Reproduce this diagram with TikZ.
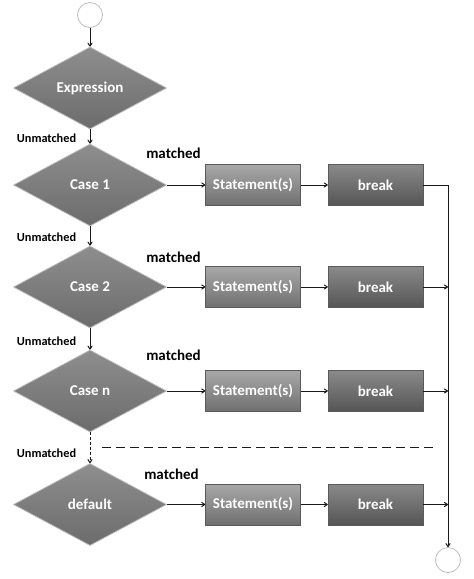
\documentclass[tikz,border=0pt]{standalone}
\usepackage{fontspec}
\setmainfont{Carlito}
\usetikzlibrary{shapes.geometric,arrows.meta}
\definecolor{diatop}{HTML}{8E8E8E}
\definecolor{diabot}{HTML}{6C6C6C}
\definecolor{diaedge}{HTML}{B8B8B8}
\definecolor{sttop}{HTML}{A8A8A8}
\definecolor{stbot}{HTML}{707070}
\definecolor{brtop}{HTML}{8A8A8A}
\definecolor{brbot}{HTML}{555555}
\definecolor{boxedge}{HTML}{5A5A5A}
\definecolor{circedge}{HTML}{BDBDBD}
\begin{document}
\begin{tikzpicture}[x=1pt,y=-1pt,
  dia/.style={diamond, minimum width=153pt, minimum height=82pt, inner sep=0pt,
    top color=diatop, bottom color=diabot, draw=diaedge, line width=0.8pt,
    text=white, font=\bfseries\fontsize{15}{17}\selectfont},
  stbox/.style={rectangle, minimum width=95pt, minimum height=41pt, inner sep=0pt,
    top color=sttop, bottom color=stbot, draw=boxedge, line width=0.4pt,
    text=white, font=\bfseries\fontsize{15}{17}\selectfont},
  brbox/.style={stbox, top color=brtop, bottom color=brbot},
  term/.style={circle, minimum size=25pt, inner sep=0pt, draw=circedge, line width=0.8pt, fill=white},
  ulab/.style={font=\bfseries\fontsize{12.3}{14}\selectfont, text=black, inner sep=0pt},
  mlab/.style={font=\bfseries\fontsize{15}{17}\selectfont, text=black, inner sep=0pt},
  arr/.style={-{To[length=4pt,width=5pt]}, line width=1pt, draw=black!90},
  ln/.style={line width=1pt, draw=black!90}
]
\useasboundingbox (0,0) rectangle (474,579);

\node[term] (start) at (90,15) {};
\node[dia] (expr) at (90,88) {Expression};
\node[dia] (c1) at (90,185) {Case 1};
\node[dia] (c2) at (90,287) {Case 2};
\node[dia] (cn) at (90,391) {Case n};
\node[dia] (def) at (90,504.5) {default};

\node[stbox] (s1) at (253,185) {Statement(s)};
\node[stbox] (s2) at (253,287) {Statement(s)};
\node[stbox] (sn) at (253,391) {Statement(s)};
\node[stbox] (sd) at (253,504.5) {Statement(s)};

\node[brbox] (b1) at (375.5,185) {break};
\node[brbox] (b2) at (375.5,287) {break};
\node[brbox] (bn) at (375.5,391) {break};
\node[brbox] (bd) at (375.5,504.5) {break};

\node[term] (stop) at (448,560) {};

\node[ulab] (u0) at (46.5,138) {Unmatched};
\node[ulab] (u1) at (46.5,237) {Unmatched};
\node[ulab] (u2) at (46.5,341) {Unmatched};
\node[ulab] (u3) at (46.5,453) {Unmatched};

\node[mlab] (m1) at (173.5,153) {matched};
\node[mlab] (m2) at (173.5,257) {matched};
\node[mlab] (m3) at (173.5,355) {matched};
\node[mlab] (m4) at (171.5,474) {matched};

\draw[arr] (start) -- (expr);
\draw[arr] (expr) -- (c1);
\draw[arr] (c1) -- (c2);
\draw[arr] (c2) -- (cn);
\draw[arr, dash pattern=on 3pt off 2pt] (cn) -- (def);

\draw[arr] (c1) -- (s1);
\draw[arr] (c2) -- (s2);
\draw[arr] (cn) -- (sn);
\draw[arr] (def) -- (sd);

\draw[arr] (s1) -- (b1);
\draw[arr] (s2) -- (b2);
\draw[arr] (sn) -- (bn);
\draw[arr] (sd) -- (bd);

\coordinate (r1) at (448,185);
\draw[arr] (b1.east) -- (r1) -- (stop.north);
\draw[arr] (b2.east) -- (b2.east -| r1);
\draw[arr] (bn.east) -- (bn.east -| r1);
\draw[arr] (bd.east) -- (bd.east -| r1);

\coordinate (dl) at (102,447);
\coordinate (dr) at (436,447);
\draw[ln, dash pattern=on 9pt off 5pt] (dl) -- (dr);
\end{tikzpicture}
\end{document}
